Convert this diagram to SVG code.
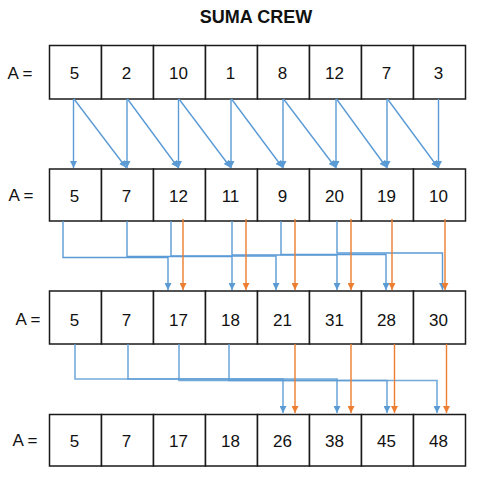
<svg xmlns="http://www.w3.org/2000/svg" width="479" height="479" viewBox="0 0 479 479">
<style>
.cell rect{fill:#fff;stroke:#1a1a1a;stroke-width:1.5}
.cell text,.lbl{font-family:"Liberation Sans",Arial,sans-serif;font-size:17px;fill:#111;text-anchor:middle}
.title{font-family:"Liberation Sans",Arial,sans-serif;font-size:18px;font-weight:bold;fill:#111;text-anchor:middle}
.b{fill:none;stroke:#5B9BD5;stroke-width:1.4}
.o{fill:none;stroke:#ED7D31;stroke-width:1.4}
.b2{fill:none;stroke:#5B9BD5;stroke-width:1.6;stroke-opacity:0.85}
</style>
<defs>
<marker id="ab" viewBox="0 0 10 10" refX="10" refY="5" markerWidth="7" markerHeight="7" markerUnits="userSpaceOnUse" orient="auto"><path d="M0,0 L10,5 L0,10 z" fill="#5B9BD5"/></marker>
<marker id="ao" viewBox="0 0 10 10" refX="10" refY="5" markerWidth="7" markerHeight="7" markerUnits="userSpaceOnUse" orient="auto"><path d="M0,0 L10,5 L0,10 z" fill="#ED7D31"/></marker>
</defs>
<rect width="479" height="479" fill="#fff"/>
<text class="title" x="256" y="23">SUMA CREW</text>
<text class="lbl" x="20" y="79">A =</text>
<text class="lbl" x="21" y="201">A =</text>
<text class="lbl" x="28" y="325">A =</text>
<text class="lbl" x="25" y="446">A =</text>

<g id="r1c0" class="cell"><rect x="49.5" y="45.5" width="52" height="53.5"/><text x="74.5" y="79">5</text></g>
<g id="r1c1" class="cell"><rect x="101.5" y="45.5" width="52" height="53.5"/><text x="126.5" y="79">2</text></g>
<g id="r1c2" class="cell"><rect x="153.5" y="45.5" width="52" height="53.5"/><text x="178.5" y="79">10</text></g>
<g id="r1c3" class="cell"><rect x="205.5" y="45.5" width="52" height="53.5"/><text x="230.5" y="79">1</text></g>
<g id="r1c4" class="cell"><rect x="257.5" y="45.5" width="52" height="53.5"/><text x="282.5" y="79">8</text></g>
<g id="r1c5" class="cell"><rect x="309.5" y="45.5" width="52" height="53.5"/><text x="334.5" y="79">12</text></g>
<g id="r1c6" class="cell"><rect x="361.5" y="45.5" width="52" height="53.5"/><text x="386.5" y="79">7</text></g>
<g id="r1c7" class="cell"><rect x="413.5" y="45.5" width="52" height="53.5"/><text x="438.5" y="79">3</text></g>

<g id="r2c0" class="cell"><rect x="49.5" y="169" width="52" height="52"/><text x="74.5" y="202">5</text></g>
<g id="r2c1" class="cell"><rect x="101.5" y="169" width="52" height="52"/><text x="126.5" y="202">7</text></g>
<g id="r2c2" class="cell"><rect x="153.5" y="169" width="52" height="52"/><text x="178.5" y="202">12</text></g>
<g id="r2c3" class="cell"><rect x="205.5" y="169" width="52" height="52"/><text x="230.5" y="202">11</text></g>
<g id="r2c4" class="cell"><rect x="257.5" y="169" width="52" height="52"/><text x="282.5" y="202">9</text></g>
<g id="r2c5" class="cell"><rect x="309.5" y="169" width="52" height="52"/><text x="334.5" y="202">20</text></g>
<g id="r2c6" class="cell"><rect x="361.5" y="169" width="52" height="52"/><text x="386.5" y="202">19</text></g>
<g id="r2c7" class="cell"><rect x="413.5" y="169" width="52" height="52"/><text x="438.5" y="202">10</text></g>

<g id="r3c0" class="cell"><rect x="49.5" y="291" width="52" height="53"/><text x="74.5" y="326">5</text></g>
<g id="r3c1" class="cell"><rect x="101.5" y="291" width="52" height="53"/><text x="126.5" y="326">7</text></g>
<g id="r3c2" class="cell"><rect x="153.5" y="291" width="52" height="53"/><text x="178.5" y="326">17</text></g>
<g id="r3c3" class="cell"><rect x="205.5" y="291" width="52" height="53"/><text x="230.5" y="326">18</text></g>
<g id="r3c4" class="cell"><rect x="257.5" y="291" width="52" height="53"/><text x="282.5" y="326">21</text></g>
<g id="r3c5" class="cell"><rect x="309.5" y="291" width="52" height="53"/><text x="334.5" y="326">31</text></g>
<g id="r3c6" class="cell"><rect x="361.5" y="291" width="52" height="53"/><text x="386.5" y="326">28</text></g>
<g id="r3c7" class="cell"><rect x="413.5" y="291" width="52" height="53"/><text x="438.5" y="326">30</text></g>

<g id="r4c0" class="cell"><rect x="49.5" y="414.5" width="52" height="51.5"/><text x="74.5" y="447">5</text></g>
<g id="r4c1" class="cell"><rect x="101.5" y="414.5" width="52" height="51.5"/><text x="126.5" y="447">7</text></g>
<g id="r4c2" class="cell"><rect x="153.5" y="414.5" width="52" height="51.5"/><text x="178.5" y="447">17</text></g>
<g id="r4c3" class="cell"><rect x="205.5" y="414.5" width="52" height="51.5"/><text x="230.5" y="447">18</text></g>
<g id="r4c4" class="cell"><rect x="257.5" y="414.5" width="52" height="51.5"/><text x="282.5" y="447">26</text></g>
<g id="r4c5" class="cell"><rect x="309.5" y="414.5" width="52" height="51.5"/><text x="334.5" y="447">38</text></g>
<g id="r4c6" class="cell"><rect x="361.5" y="414.5" width="52" height="51.5"/><text x="386.5" y="447">45</text></g>
<g id="r4c7" class="cell"><rect x="413.5" y="414.5" width="52" height="51.5"/><text x="438.5" y="447">48</text></g>

<g id="connectors">
<g id="step1">
<path class="b" marker-end="url(#ab)" d="M73.5,99 V168"/>
<path class="b" marker-end="url(#ab)" d="M127,99 V168"/>
<path class="b" marker-end="url(#ab)" d="M178.5,99 V168"/>
<path class="b" marker-end="url(#ab)" d="M231,99 V168"/>
<path class="b" marker-end="url(#ab)" d="M283,99 V168"/>
<path class="b" marker-end="url(#ab)" d="M336,99 V168"/>
<path class="b" marker-end="url(#ab)" d="M387,99 V168"/>
<path class="b" marker-end="url(#ab)" d="M438.5,99 V168"/>
<path class="b" marker-end="url(#ab)" d="M74,99 L126,167.5"/>
<path class="b" marker-end="url(#ab)" d="M127.5,99 L178,167.5"/>
<path class="b" marker-end="url(#ab)" d="M179,99 L230.5,167.5"/>
<path class="b" marker-end="url(#ab)" d="M231.5,99 L282.5,167.5"/>
<path class="b" marker-end="url(#ab)" d="M283.5,99 L335.5,167.5"/>
<path class="b" marker-end="url(#ab)" d="M336.5,99 L386.5,167.5"/>
<path class="b" marker-end="url(#ab)" d="M387.5,99 L438,167.5"/>
</g>
<g id="step2">
<path class="b" marker-end="url(#ab)" d="M63,221 V257.5 H168 V290"/>
<path class="b" marker-end="url(#ab)" d="M127,221 V256.5 H232 V290"/>
<path class="b" marker-end="url(#ab)" d="M171,221 V256 H276 V290"/>
<path class="b" marker-end="url(#ab)" d="M232,221 V255 H337 V290"/>
<path class="b" marker-end="url(#ab)" d="M281,221 V254.5 H386 V290"/>
<path class="b" marker-end="url(#ab)" d="M337,221 V253 H442.5 V290"/>
<path class="o" marker-end="url(#ao)" d="M183,219 V290"/>
<path class="o" marker-end="url(#ao)" d="M246,219 V290"/>
<path class="o" marker-end="url(#ao)" d="M295,219 V290"/>
<path class="o" marker-end="url(#ao)" d="M351,219 V290"/>
<path class="o" marker-end="url(#ao)" d="M392,219 V290"/>
<path class="o" marker-end="url(#ao)" d="M445,219 V290"/>
</g>
<g id="step3">
<path class="b2" marker-end="url(#ab)" d="M75,344 V379 H283 V413"/>
<path class="b2" marker-end="url(#ab)" d="M128,344 V379 H337 V413"/>
<path class="b2" marker-end="url(#ab)" d="M179,344 V380.5 H387 V413"/>
<path class="b2" marker-end="url(#ab)" d="M229,344 V380.5 H437 V413"/>
<path class="o" marker-end="url(#ao)" d="M295,344 V413"/>
<path class="o" marker-end="url(#ao)" d="M351,344 V413"/>
<path class="o" marker-end="url(#ao)" d="M394.5,344 V413"/>
<path class="o" marker-end="url(#ao)" d="M446.5,344 V413"/>
</g>
</g>
</svg>
